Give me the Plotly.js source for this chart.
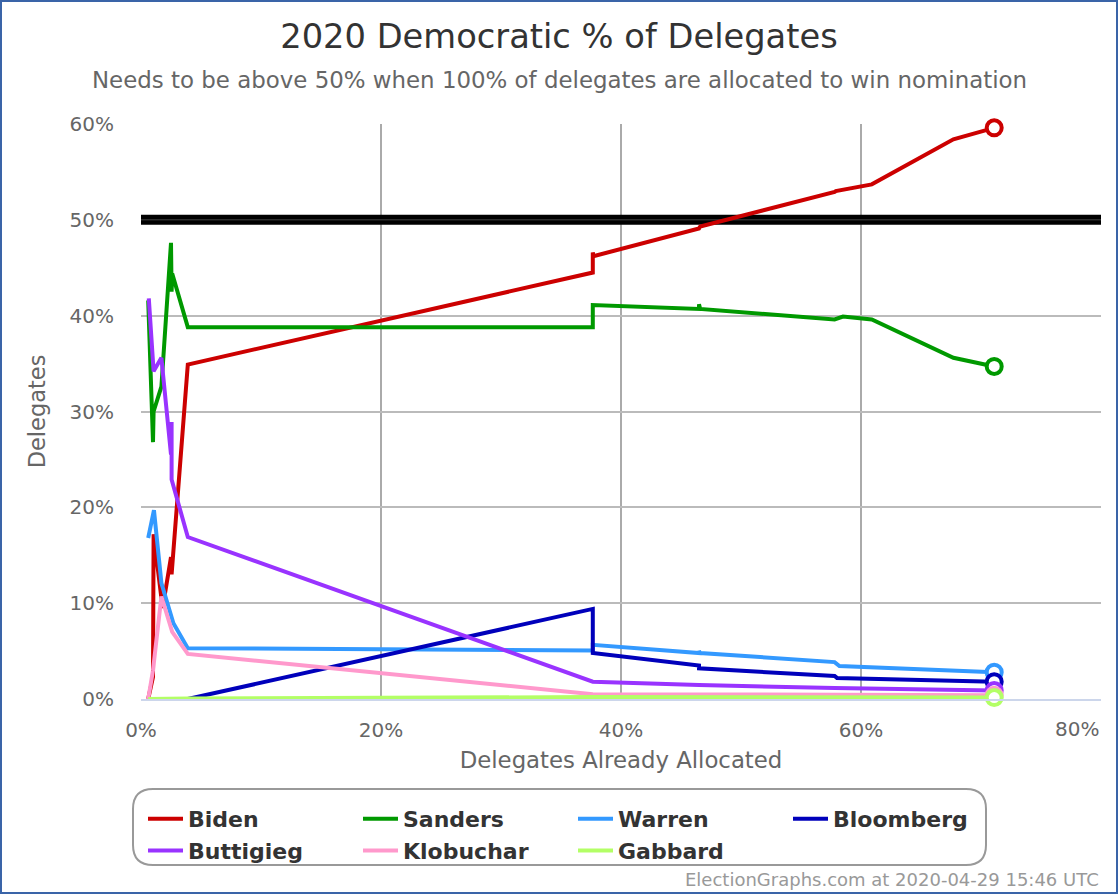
<!DOCTYPE html>
<html><head><meta charset="utf-8">
<script src="https://cdn.plot.ly/plotly-3.0.1.min.js"></script>
<style>html,body{margin:0;padding:0;background:#fff}</style></head>
<body><div id="chart" style="width:1120px;height:896px"></div>
<script>
const names = ['Biden','Sanders','Warren','Bloomberg','Buttigieg','Klobuchar','Gabbard'];
const colors = ['#cc0000','#009900','#3399ff','#0000bb','#9933ff','#ff99cc','#b3ff66'];

const bidenX = [0.6,1.0,1.05,1.8,2.5,2.55,3.9,37.65,37.65,37.7,46.5,46.6,57.8,57.9,60.9,67.7,71.1];
const bidenY = [0,2.3,17.2,9.5,14.8,13.0,34.9,44.5,46.6,46.2,49.1,49.3,52.9,53.0,53.7,58.4,59.6];
const sandersX = [0.6,1.0,1.05,1.7,2.5,2.55,2.6,3.9,37.65,37.65,46.5,46.5,46.6,57.8,58.5,60.9,67.7,71.1];
const sandersY = [41.6,26.8,30.0,32.6,47.6,42.5,44.4,38.8,38.8,41.1,40.7,41.2,40.7,39.6,39.9,39.6,35.6,34.7];
const warrenX = [0.6,1.08,1.7,2.7,3.9,37.65,37.65,46.5,46.5,46.6,57.8,58.2,71.1];
const warrenY = [16.8,19.7,12.1,7.9,5.3,5.05,5.65,4.8,5.0,4.8,3.85,3.45,2.8];
const bloombergX = [0.6,3.9,37.65,37.65,46.5,46.5,57.8,58.0,71.1];
const bloombergY = [0,0,9.4,4.8,3.5,3.2,2.4,2.2,1.8];
const buttigiegX = [0.65,1.05,1.7,2.5,2.55,2.55,3.9,37.65,46.5,57.8,71.1];
const buttigiegY = [41.8,34.2,35.6,25.5,28.9,22.9,16.9,1.8,1.45,1.15,0.9];
const klobucharX = [0.6,1.0,1.7,2.6,3.9,37.65,71.1];
const klobucharY = [0,3.0,10.7,7.0,4.7,0.5,0.4];
const gabbardX = [0.6,3.9,37.65,71.1];
const gabbardY = [0,0.05,0.2,0.15];

const seriesX = [bidenX,sandersX,warrenX,bloombergX,buttigiegX,klobucharX,gabbardX];
const seriesY = [bidenY,sandersY,warrenY,bloombergY,buttigiegY,klobucharY,gabbardY];

const thresholdX = [0,80];
const thresholdY = [50,50];
const xTickVals = [0,20,40,60,80];
const xTickText = ['0%','20%','40%','60%',''];
const yTickVals = [0,10,20,30,40,50,60];
const yTickText = ['0%','10%','20%','30%','40%','50%','60%'];

const FONT = '"DejaVu Sans", sans-serif';
const L=141,R=1101,T=124,B=699;
const px = x => (x-L)/(R-L);
const py = y => (B-y)/(B-T);

const traces = [
  {x:thresholdX,y:thresholdY,mode:'lines',line:{color:'#000',width:10},showlegend:false,hoverinfo:'skip',cliponaxis:true},
  {x:thresholdX,y:thresholdY,mode:'lines',line:{color:'#444',width:1},showlegend:false,hoverinfo:'skip',cliponaxis:true}
];
names.forEach((n,i)=>{
  traces.push({x:seriesX[i],y:seriesY[i],name:n,mode:'lines',
    line:{color:colors[i],width:4,simplify:false},cliponaxis:false});
});
names.forEach((n,i)=>{
  const k=seriesX[i].length-1;
  traces.push({x:[seriesX[i][k]],y:[seriesY[i][k]],mode:'markers',showlegend:false,cliponaxis:false,
    marker:{symbol:'circle',size:15,color:'#fff',line:{color:colors[i],width:4}}});
});

const bx0=px(133),bx1=px(986),by0=py(789),by1=py(865);
const rx=20/(R-L), ry=20/(B-T);
const boxPath=`M ${bx0+rx} ${by0} L ${bx1-rx} ${by0} Q ${bx1} ${by0} ${bx1} ${by0-ry} L ${bx1} ${by1+ry} Q ${bx1} ${by1} ${bx1-rx} ${by1} L ${bx0+rx} ${by1} Q ${bx0} ${by1} ${bx0} ${by1+ry} L ${bx0} ${by0-ry} Q ${bx0} ${by0} ${bx0+rx} ${by0} Z`;

const layout = {
  width:1120,height:896,
  paper_bgcolor:'#fff',plot_bgcolor:'#fff',
  margin:{l:L,r:1120-R,t:T,b:896-B,pad:0},
  font:{family:FONT,color:'#666'},
  title:{text:'2020 Democratic % of Delegates',font:{family:FONT,size:33.7,color:'#333'},
    x:559/1120,xref:'container',xanchor:'center',y:1-36/896,yref:'container',yanchor:'middle'},
  xaxis:{range:[0,80],tickvals:xTickVals,ticktext:xTickText,showgrid:true,gridcolor:'#aaaaaa',gridwidth:2,
    zeroline:false,showline:true,linecolor:'#ccd6eb',linewidth:2,ticks:'',
    tickfont:{family:FONT,size:20,color:'#666'},ticklabelstandoff:12,
    title:{text:'Delegates Already Allocated',font:{family:FONT,size:22.8,color:'#666'},standoff:11},automargin:false},
  yaxis:{range:[0,60],tickvals:yTickVals,ticktext:yTickText,showgrid:true,gridcolor:'#bbbbbb',gridwidth:2,
    zeroline:false,showline:false,ticks:'',
    tickfont:{family:FONT,size:20,color:'#666'},ticklabelstandoff:26,
    title:{text:'Delegates',font:{family:FONT,size:22.5,color:'#666'},standoff:17},automargin:false},
  legend:{orientation:'h',x:px(143),xanchor:'left',y:py(798),yanchor:'top',
    font:{family:FONT,size:22,color:'#333',weight:'bold'},bgcolor:'rgba(0,0,0,0)',borderwidth:0,
    entrywidth:165,entrywidthmode:'pixels',itemwidth:35,itemclick:false,itemdoubleclick:false,tracegroupgap:0,traceorder:'normal'},
  shapes:[
    {type:'rect',xref:'paper',yref:'paper',x0:px(1),x1:px(1117),y0:py(1),y1:py(893),line:{color:'#3a64a8',width:2},fillcolor:'rgba(0,0,0,0)',layer:'below'},
    {type:'path',xref:'paper',yref:'paper',path:boxPath,line:{color:'#999',width:2},fillcolor:'#fff',layer:'below'}
  ],
  annotations:[
    {xref:'paper',yref:'paper',x:px(559),y:py(80),xanchor:'center',yanchor:'middle',showarrow:false,
     text:'Needs to be above 50% when 100% of delegates are allocated to win nomination',font:{family:FONT,size:22.9,color:'#666'}},
    {xref:'paper',yref:'paper',x:px(1101),y:py(729),xanchor:'right',yanchor:'middle',showarrow:false,
     text:'80%',font:{family:FONT,size:20,color:'#666'},xshift:0},
    {xref:'paper',yref:'paper',x:px(1101),y:py(879),xanchor:'right',yanchor:'middle',showarrow:false,
     text:'ElectionGraphs.com at 2020-04-29 15:46 UTC',font:{family:FONT,size:18,color:'#999'},xshift:0}
  ],
  showlegend:true
};
Plotly.newPlot('chart',traces,layout,{displayModeBar:false,responsive:false});
</script></body></html>
